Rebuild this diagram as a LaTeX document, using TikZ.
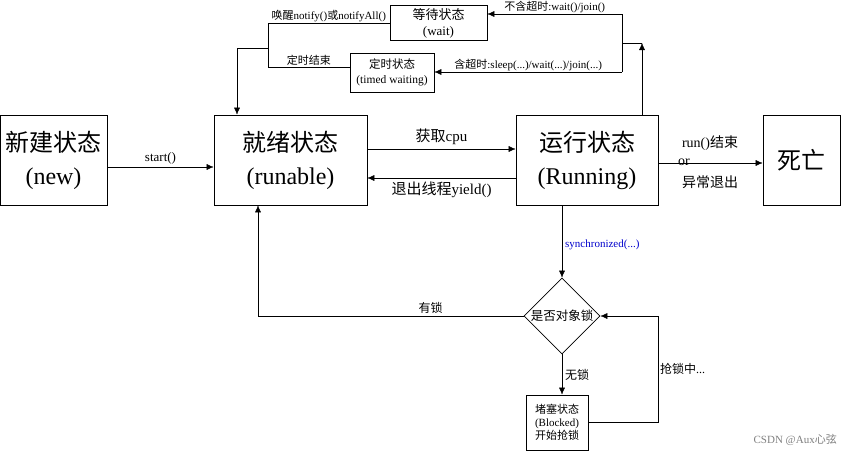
\documentclass[tikz,border=0pt]{standalone}
\usepackage{fontspec}
\setmainfont{Liberation Serif}
\newfontfamily\zhf{Noto Sans CJK SC}
\newcommand{\zh}[1]{{\zhf #1}}
\usetikzlibrary{arrows.meta,shapes.geometric}
\begin{document}
\begin{tikzpicture}[x=1pt,y=-1pt,
 box/.style={draw,thick,inner sep=1pt,align=center},
 ar/.style={-{Latex[length=7pt,width=6pt]}},
 lbl/.style={font=\fontsize{13}{14}\selectfont,inner sep=1pt},
 sl/.style={font=\fontsize{11}{12}\selectfont,inner sep=1pt}]
\useasboundingbox (0,0) rectangle (845,455);
\fill[white] (0,0) rectangle (845,455);
\tikzset{big/.style={font=\fontsize{24}{33}\selectfont}}
\node[box,big,minimum width=107,minimum height=90] (new) at (53.5,160) {\zh{新建状态}\\(new)};
\node[box,big,minimum width=153,minimum height=90] (ready) at (290.5,160) {\zh{就绪状态}\\(runable)};
\node[box,big,minimum width=142,minimum height=90] (run) at (587,160) {\zh{运行状态}\\(Running)};
\node[box,big,minimum width=77,minimum height=90] (dead) at (801.5,160) {\zh{死亡}};
\node[box,minimum width=97,minimum height=35,font=\fontsize{13}{16}\selectfont] (wait) at (438.5,23) {\zh{等待状态}\\(wait)};
\node[box,minimum width=84,minimum height=39,font=\fontsize{11.5}{15}\selectfont] (timed) at (392,72.5) {\zh{定时状态}\\(timed waiting)};
\node[draw,thick,diamond,minimum width=76,minimum height=76,inner sep=0] (lock) at (562,316) {};
\node[font=\fontsize{12.5}{13}\selectfont,inner sep=0] at (562,316) {\zh{是否对象锁}};
\node[box,minimum width=62,minimum height=55,font=\fontsize{11}{13}\selectfont] (blk) at (557,422.5) {\zh{堵塞状态}\\(Blocked)\\\zh{开始抢锁}};
% main arrows
\draw[ar] (new.east |- 0,167) -- node[sl,above=2pt,font=\fontsize{13}{14}\selectfont]{start()} (ready.west |- 0,167);
\draw[ar] (ready.east |- 0,149) -- node[lbl,above=3pt,font=\fontsize{15}{16}\selectfont]{\zh{获取}cpu} (run.west |- 0,149);
\draw[ar] (run.west |- 0,178) -- node[lbl,below=3pt,font=\fontsize{15}{16}\selectfont]{\zh{退出线程}yield()} (ready.east |- 0,178);
\draw[ar] (run.east |- 0,163) -- (dead.west |- 0,163);
\node[lbl,font=\fontsize{14}{15}\selectfont] at (710,143) {run()\zh{结束}};
\node[lbl,font=\fontsize{14}{15}\selectfont] at (684,162) {or};
\node[lbl,font=\fontsize{14}{15}\selectfont] at (710,182) {\zh{异常退出}};
% top loop
\coordinate (up) at (642,43);
\draw[ar] (run.north -| up) -- (up);
\coordinate (t1) at (622,14); \coordinate (t2) at (622,72);
\draw (622,43) -- (up);
\draw (t1) -- (t2);
\draw[ar] (t1) -- node[sl,above=0pt]{\zh{不含超时}:wait()/join()} (wait.east |- t1);
\draw[ar] (t2) -- node[sl,above=0pt]{\zh{含超时}:sleep(...)/wait(...)/join(...)} (timed.east |- t2);
\coordinate (l1) at (268,23); \coordinate (l2) at (268,67);
\draw (wait.west) -- node[sl,above=0pt]{\zh{唤醒}notify()\zh{或}notifyAll()} (l1) -- (l2) -- node[sl,above=0pt]{\zh{定时结束}} (timed.west |- l2);
\coordinate (l3) at (237,48);
\draw[ar] (268,48) -- (l3) -- (l3 |- ready.north);
% lock
\draw[ar] (run.south -| lock) -- node[sl,right=2pt,pos=0.55,text=blue!80!black]{synchronized(...)} (lock.north);
\coordinate (c1) at (258,316);
\draw[ar] (lock.west) -- node[sl,above=1pt,pos=0.35,font=\fontsize{12}{13}\selectfont]{\zh{有锁}} (c1) -- (c1 |- ready.south);
\draw[ar] (lock.south) -- node[sl,right=2pt,font=\fontsize{12}{13}\selectfont]{\zh{无锁}} (lock.south |- blk.north);
\coordinate (r1) at (658,422); \coordinate (r2) at (658,316);
\draw[ar] (blk.east |- r1) -- (r1) -- node[sl,right=1pt,font=\fontsize{12}{13}\selectfont]{\zh{抢锁中}...} (r2) -- (lock.east);
\node[sl,text=gray,anchor=east] at (838,440) {CSDN @Aux\zh{心弦}};
\end{tikzpicture}
\end{document}
